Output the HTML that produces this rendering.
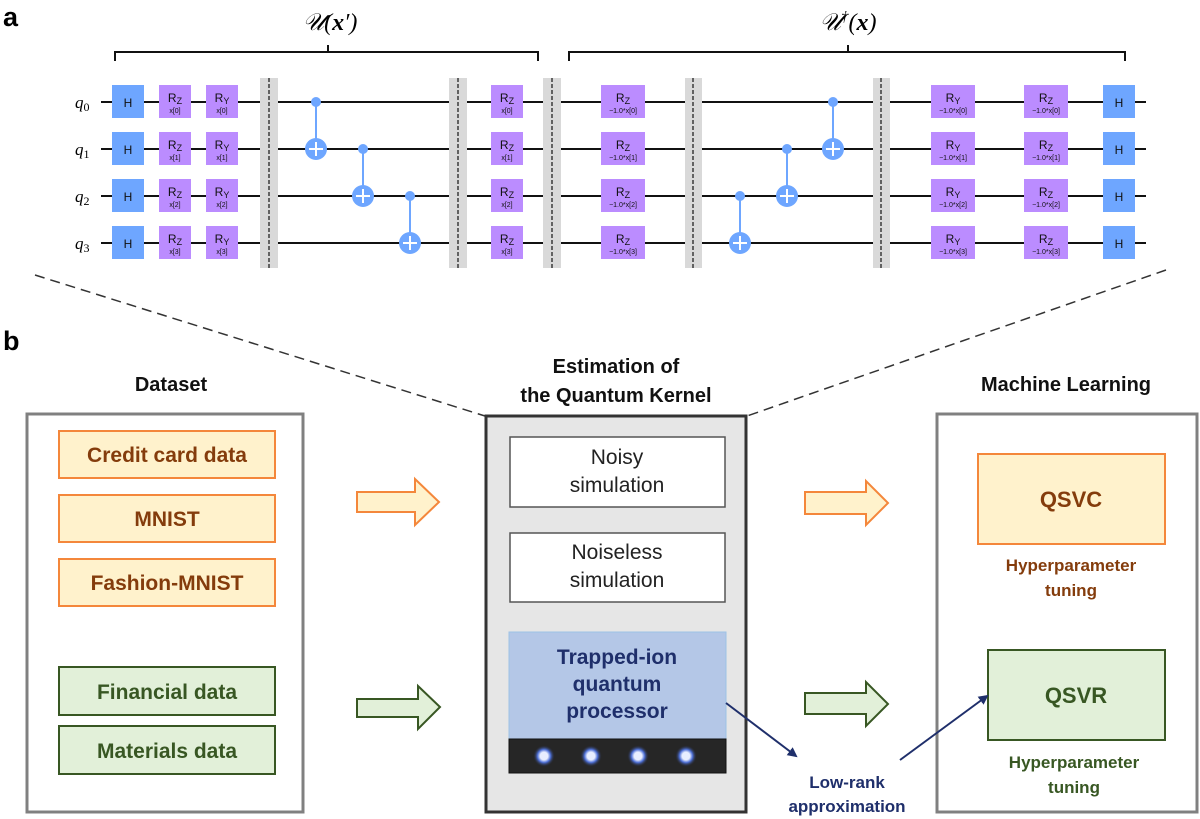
<!DOCTYPE html>
<html><head><meta charset="utf-8"><style>html,body{margin:0;padding:0;background:#fff}svg{display:block}</style></head>
<body>
<svg width="1200" height="819" viewBox="0 0 1200 819" xmlns="http://www.w3.org/2000/svg" font-family="Liberation Sans, sans-serif">
<defs>
<marker id="ah" markerWidth="10" markerHeight="10" refX="8" refY="5" orient="auto" markerUnits="userSpaceOnUse"><path d="M0,0 L10,5 L0,10 z" fill="#1f2f6b"/></marker>
<radialGradient id="glow"><stop offset="0.35" stop-color="#e8eeff"/><stop offset="0.6" stop-color="#4d6fd6"/><stop offset="1" stop-color="#222" stop-opacity="0"/></radialGradient>
</defs>
<text x="3" y="26" font-size="27" font-weight="bold">a</text>
<text x="3" y="350" font-size="27" font-weight="bold">b</text>
<text x="330" y="30" font-size="24" font-style="italic" font-family="Liberation Serif, serif" text-anchor="middle">𝒰(<tspan font-weight="bold">x</tspan>′)</text>
<text x="848" y="30" font-size="24" font-style="italic" font-family="Liberation Serif, serif" text-anchor="middle">𝒰<tspan font-size="15" dy="-9">†</tspan><tspan dy="9">(</tspan><tspan font-weight="bold">x</tspan>)</text>
<g fill="none" stroke="#111" stroke-width="2">
<path d="M115,61 V52 H328 V45 M328,52 H538 V61"/>
<path d="M569,61 V52 H848 V45 M848,52 H1125 V61"/>
</g>
<g stroke="#111" stroke-width="2">
<line x1="101" y1="102" x2="1146" y2="102"/><line x1="101" y1="149" x2="1146" y2="149"/>
<line x1="101" y1="196" x2="1146" y2="196"/><line x1="101" y1="243" x2="1146" y2="243"/>
</g>
<g font-family="Liberation Serif, serif" font-style="italic" font-size="17">
<text x="75" y="108">q<tspan font-size="12" dy="3" font-style="normal">0</tspan></text>
<text x="75" y="155">q<tspan font-size="12" dy="3" font-style="normal">1</tspan></text>
<text x="75" y="202">q<tspan font-size="12" dy="3" font-style="normal">2</tspan></text>
<text x="75" y="249">q<tspan font-size="12" dy="3" font-style="normal">3</tspan></text>
</g>
<g fill="#d9d9d9"><rect x="260" y="78" width="18" height="190"/><rect x="449" y="78" width="18" height="190"/><rect x="543" y="78" width="18" height="190"/><rect x="685" y="78" width="17" height="190"/><rect x="873" y="78" width="17" height="190"/></g>
<g stroke="#222" stroke-width="1.3" stroke-dasharray="4,2"><line x1="269" y1="78" x2="269" y2="268"/><line x1="458" y1="78" x2="458" y2="268"/><line x1="552" y1="78" x2="552" y2="268"/><line x1="693" y1="78" x2="693" y2="268"/><line x1="881" y1="78" x2="881" y2="268"/></g>
<g fill="#6ea6ff">
<rect x="112" y="85" width="32" height="33"/><rect x="112" y="132" width="32" height="33"/><rect x="112" y="179" width="32" height="33"/><rect x="112" y="226" width="32" height="33"/>
<rect x="1103" y="85" width="32" height="33"/><rect x="1103" y="132" width="32" height="33"/><rect x="1103" y="179" width="32" height="33"/><rect x="1103" y="226" width="32" height="33"/>
</g>
<g font-size="12" text-anchor="middle" fill="#111">
<text x="128" y="107">H</text><text x="128" y="154">H</text><text x="128" y="201">H</text><text x="128" y="248">H</text>
<text x="1119" y="107">H</text><text x="1119" y="154">H</text><text x="1119" y="201">H</text><text x="1119" y="248">H</text>
</g>
<g fill="#bb8cff">
<rect x="159" y="85" width="32" height="33"/><rect x="159" y="132" width="32" height="33"/><rect x="159" y="179" width="32" height="33"/><rect x="159" y="226" width="32" height="33"/>
<rect x="206" y="85" width="32" height="33"/><rect x="206" y="132" width="32" height="33"/><rect x="206" y="179" width="32" height="33"/><rect x="206" y="226" width="32" height="33"/>
<rect x="491" y="85" width="32" height="33"/><rect x="491" y="132" width="32" height="33"/><rect x="491" y="179" width="32" height="33"/><rect x="491" y="226" width="32" height="33"/>
<rect x="601" y="85" width="44" height="33"/><rect x="601" y="132" width="44" height="33"/><rect x="601" y="179" width="44" height="33"/><rect x="601" y="226" width="44" height="33"/>
<rect x="931" y="85" width="44" height="33"/><rect x="931" y="132" width="44" height="33"/><rect x="931" y="179" width="44" height="33"/><rect x="931" y="226" width="44" height="33"/>
<rect x="1024" y="85" width="44" height="33"/><rect x="1024" y="132" width="44" height="33"/><rect x="1024" y="179" width="44" height="33"/><rect x="1024" y="226" width="44" height="33"/>
</g>
<g text-anchor="middle" fill="#111">
<g font-size="12">
<text x="175" y="102">R<tspan font-size="9" dy="2">Z</tspan></text><text x="175" y="149">R<tspan font-size="9" dy="2">Z</tspan></text><text x="175" y="196">R<tspan font-size="9" dy="2">Z</tspan></text><text x="175" y="243">R<tspan font-size="9" dy="2">Z</tspan></text>
<text x="222" y="102">R<tspan font-size="9" dy="2">Y</tspan></text><text x="222" y="149">R<tspan font-size="9" dy="2">Y</tspan></text><text x="222" y="196">R<tspan font-size="9" dy="2">Y</tspan></text><text x="222" y="243">R<tspan font-size="9" dy="2">Y</tspan></text>
<text x="507" y="102">R<tspan font-size="9" dy="2">Z</tspan></text><text x="507" y="149">R<tspan font-size="9" dy="2">Z</tspan></text><text x="507" y="196">R<tspan font-size="9" dy="2">Z</tspan></text><text x="507" y="243">R<tspan font-size="9" dy="2">Z</tspan></text>
<text x="623" y="102">R<tspan font-size="9" dy="2">Z</tspan></text><text x="623" y="149">R<tspan font-size="9" dy="2">Z</tspan></text><text x="623" y="196">R<tspan font-size="9" dy="2">Z</tspan></text><text x="623" y="243">R<tspan font-size="9" dy="2">Z</tspan></text>
<text x="953" y="102">R<tspan font-size="9" dy="2">Y</tspan></text><text x="953" y="149">R<tspan font-size="9" dy="2">Y</tspan></text><text x="953" y="196">R<tspan font-size="9" dy="2">Y</tspan></text><text x="953" y="243">R<tspan font-size="9" dy="2">Y</tspan></text>
<text x="1046" y="102">R<tspan font-size="9" dy="2">Z</tspan></text><text x="1046" y="149">R<tspan font-size="9" dy="2">Z</tspan></text><text x="1046" y="196">R<tspan font-size="9" dy="2">Z</tspan></text><text x="1046" y="243">R<tspan font-size="9" dy="2">Z</tspan></text>
</g>
<g font-size="7">
<text x="175" y="113">x[0]</text><text x="175" y="160">x[1]</text><text x="175" y="207">x[2]</text><text x="175" y="254">x[3]</text>
<text x="222" y="113">x[0]</text><text x="222" y="160">x[1]</text><text x="222" y="207">x[2]</text><text x="222" y="254">x[3]</text>
<text x="507" y="113">x[0]</text><text x="507" y="160">x[1]</text><text x="507" y="207">x[2]</text><text x="507" y="254">x[3]</text>
<text x="623" y="113">−1.0*x[0]</text><text x="623" y="160">−1.0*x[1]</text><text x="623" y="207">−1.0*x[2]</text><text x="623" y="254">−1.0*x[3]</text>
<text x="953" y="113">−1.0*x[0]</text><text x="953" y="160">−1.0*x[1]</text><text x="953" y="207">−1.0*x[2]</text><text x="953" y="254">−1.0*x[3]</text>
<text x="1046" y="113">−1.0*x[0]</text><text x="1046" y="160">−1.0*x[1]</text><text x="1046" y="207">−1.0*x[2]</text><text x="1046" y="254">−1.0*x[3]</text>
</g>
</g>
<g stroke="#6ea6ff" stroke-width="2">
<line x1="316" y1="102" x2="316" y2="149"/><line x1="363" y1="149" x2="363" y2="196"/><line x1="410" y1="196" x2="410" y2="243"/>
<line x1="740" y1="196" x2="740" y2="243"/><line x1="787" y1="149" x2="787" y2="196"/><line x1="833" y1="102" x2="833" y2="149"/>
</g>
<g fill="#6ea6ff">
<circle cx="316" cy="102" r="5"/><circle cx="316" cy="149" r="11"/>
<circle cx="363" cy="149" r="5"/><circle cx="363" cy="196" r="11"/>
<circle cx="410" cy="196" r="5"/><circle cx="410" cy="243" r="11"/>
<circle cx="740" cy="196" r="5"/><circle cx="740" cy="243" r="11"/>
<circle cx="787" cy="149" r="5"/><circle cx="787" cy="196" r="11"/>
<circle cx="833" cy="102" r="5"/><circle cx="833" cy="149" r="11"/>
</g>
<g stroke="#fff" stroke-width="2">
<path d="M309,149h14M316,142v14"/><path d="M356,196h14M363,189v14"/><path d="M403,243h14M410,236v14"/>
<path d="M733,243h14M740,236v14"/><path d="M780,196h14M787,189v14"/><path d="M826,149h14M833,142v14"/>
</g>
<g stroke="#333" stroke-width="1.5" stroke-dasharray="10,6">
<line x1="35" y1="275" x2="485" y2="416"/><line x1="1166" y1="270" x2="747" y2="416"/>
</g>
<g font-size="20" font-weight="bold" text-anchor="middle" fill="#111">
<text x="171" y="391">Dataset</text>
<text x="616" y="373">Estimation of</text>
<text x="616" y="402">the Quantum Kernel</text>
<text x="1066" y="391">Machine Learning</text>
</g>
<rect x="27" y="414" width="276" height="398" fill="#fff" stroke="#808080" stroke-width="3"/>
<g fill="#fff2cc" stroke="#f4873b" stroke-width="2">
<rect x="59" y="431" width="216" height="47"/><rect x="59" y="495" width="216" height="47"/><rect x="59" y="559" width="216" height="47"/>
</g>
<g fill="#e2f0d9" stroke="#385723" stroke-width="2">
<rect x="59" y="667" width="216" height="48"/><rect x="59" y="726" width="216" height="48"/>
</g>
<g font-size="21" font-weight="bold" text-anchor="middle">
<g fill="#843c0c"><text x="167" y="462">Credit card data</text><text x="167" y="526">MNIST</text><text x="167" y="590">Fashion-MNIST</text></g>
<g fill="#385723"><text x="167" y="699">Financial data</text><text x="167" y="758">Materials data</text></g>
</g>
<g stroke-width="2">
<path d="M357,492 H415 V479 L439,502 L415,525 V512 H357 Z" fill="#fff2cc" stroke="#f4873b"/>
<path d="M805,492 H866 V481 L888,503 L866,525 V514 H805 Z" fill="#fff2cc" stroke="#f4873b"/>
<path d="M357,699 H418 V686 L440,707 L418,729 V717 H357 Z" fill="#e2f0d9" stroke="#385723"/>
<path d="M805,693 H866 V682 L888,704 L866,726 V714 H805 Z" fill="#e2f0d9" stroke="#385723"/>
</g>
<rect x="486" y="416" width="260" height="396" fill="#e6e6e6" stroke="#333" stroke-width="3"/>
<rect x="510" y="437" width="215" height="70" fill="#fff" stroke="#555" stroke-width="1.5"/>
<rect x="510" y="533" width="215" height="69" fill="#fff" stroke="#555" stroke-width="1.5"/>
<g font-size="21" text-anchor="middle" fill="#222">
<text x="617" y="464">Noisy</text><text x="617" y="492">simulation</text>
<text x="617" y="559">Noiseless</text><text x="617" y="587">simulation</text>
</g>
<rect x="509" y="632" width="217" height="107" fill="#b4c7e7" stroke="#9dc3e6" stroke-width="1"/>
<rect x="509" y="739" width="217" height="34" fill="#262626" stroke="#111" stroke-width="1"/>
<g fill="url(#glow)"><circle cx="544" cy="756" r="11"/><circle cx="591" cy="756" r="11"/><circle cx="638" cy="756" r="11"/><circle cx="686" cy="756" r="11"/></g>
<g font-size="21" font-weight="bold" text-anchor="middle" fill="#1f2f6b">
<text x="617" y="664">Trapped-ion</text><text x="617" y="691">quantum</text><text x="617" y="718">processor</text>
</g>
<g font-size="17" font-weight="bold" text-anchor="middle" fill="#1f2f6b">
<text x="847" y="788">Low-rank</text><text x="847" y="812">approximation</text>
</g>
<rect x="937" y="414" width="260" height="398" fill="#fff" stroke="#808080" stroke-width="3"/>
<rect x="978" y="454" width="187" height="90" fill="#fff2cc" stroke="#f4873b" stroke-width="2"/>
<rect x="988" y="650" width="177" height="90" fill="#e2f0d9" stroke="#385723" stroke-width="2"/>
<g font-size="22" font-weight="bold" text-anchor="middle">
<text x="1071" y="507" fill="#843c0c">QSVC</text>
<text x="1076" y="703" fill="#385723">QSVR</text>
</g>
<g font-size="17" font-weight="bold" text-anchor="middle">
<text x="1071" y="571" fill="#843c0c">Hyperparameter</text><text x="1071" y="596" fill="#843c0c">tuning</text>
<text x="1074" y="768" fill="#385723">Hyperparameter</text><text x="1074" y="793" fill="#385723">tuning</text>
</g>
<g stroke="#1f2f6b" stroke-width="2" marker-end="url(#ah)">
<line x1="726" y1="703" x2="796" y2="756"/><line x1="900" y1="760" x2="987" y2="696"/>
</g>
</svg>
</body></html>
